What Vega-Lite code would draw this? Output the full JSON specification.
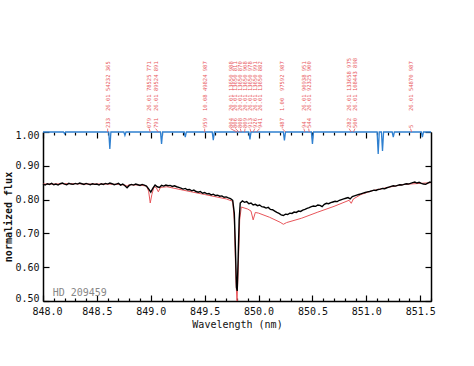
{
  "$schema": "https://vega.github.io/schema/vega-lite/v6.json",
  "width": 388,
  "height": 169,
  "autosize": {"type": "none"},
  "padding": {"left": 43, "top": 132, "right": 43, "bottom": 65},
  "background": "white",
  "config": {
    "view": {"stroke": null},
    "font": "DejaVu Sans Mono",
    "axis": {"labelFont": "DejaVu Sans Mono", "titleFont": "DejaVu Sans Mono", "labelColor": "#111", "titleColor": "#111", "domainColor": "black", "tickColor": "black", "domainWidth": 1.5, "tickWidth": 1.2, "grid": false}
  },
  "datasets": {
    "obs": [
      {"wl": 848.00, "f": 0.846}, {"wl": 848.02, "f": 0.843}, {"wl": 848.04, "f": 0.847}, {"wl": 848.06, "f": 0.845}, {"wl": 848.08, "f": 0.848},
      {"wl": 848.10, "f": 0.844}, {"wl": 848.12, "f": 0.846}, {"wl": 848.14, "f": 0.843}, {"wl": 848.16, "f": 0.847}, {"wl": 848.18, "f": 0.849},
      {"wl": 848.20, "f": 0.846}, {"wl": 848.22, "f": 0.844}, {"wl": 848.24, "f": 0.848}, {"wl": 848.26, "f": 0.846}, {"wl": 848.28, "f": 0.845},
      {"wl": 848.30, "f": 0.848}, {"wl": 848.32, "f": 0.846}, {"wl": 848.34, "f": 0.849}, {"wl": 848.36, "f": 0.847}, {"wl": 848.38, "f": 0.845},
      {"wl": 848.40, "f": 0.848}, {"wl": 848.42, "f": 0.846}, {"wl": 848.44, "f": 0.844}, {"wl": 848.46, "f": 0.847}, {"wl": 848.48, "f": 0.845},
      {"wl": 848.50, "f": 0.846}, {"wl": 848.52, "f": 0.843}, {"wl": 848.54, "f": 0.847}, {"wl": 848.56, "f": 0.845}, {"wl": 848.58, "f": 0.848},
      {"wl": 848.60, "f": 0.846}, {"wl": 848.62, "f": 0.849}, {"wl": 848.64, "f": 0.847}, {"wl": 848.66, "f": 0.844}, {"wl": 848.68, "f": 0.846},
      {"wl": 848.70, "f": 0.848}, {"wl": 848.72, "f": 0.843}, {"wl": 848.74, "f": 0.846}, {"wl": 848.76, "f": 0.841}, {"wl": 848.78, "f": 0.835},
      {"wl": 848.80, "f": 0.842}, {"wl": 848.82, "f": 0.845}, {"wl": 848.84, "f": 0.843}, {"wl": 848.86, "f": 0.846}, {"wl": 848.88, "f": 0.844},
      {"wl": 848.90, "f": 0.842}, {"wl": 848.92, "f": 0.845}, {"wl": 848.94, "f": 0.843}, {"wl": 848.96, "f": 0.840}, {"wl": 848.98, "f": 0.832},
      {"wl": 849.00, "f": 0.822}, {"wl": 849.02, "f": 0.834}, {"wl": 849.04, "f": 0.843}, {"wl": 849.06, "f": 0.838}, {"wl": 849.08, "f": 0.836},
      {"wl": 849.10, "f": 0.842}, {"wl": 849.12, "f": 0.840}, {"wl": 849.14, "f": 0.843}, {"wl": 849.16, "f": 0.841}, {"wl": 849.18, "f": 0.842},
      {"wl": 849.20, "f": 0.839}, {"wl": 849.22, "f": 0.841}, {"wl": 849.24, "f": 0.838}, {"wl": 849.26, "f": 0.836}, {"wl": 849.28, "f": 0.834},
      {"wl": 849.30, "f": 0.831}, {"wl": 849.32, "f": 0.833}, {"wl": 849.34, "f": 0.829}, {"wl": 849.36, "f": 0.830}, {"wl": 849.38, "f": 0.826},
      {"wl": 849.40, "f": 0.828}, {"wl": 849.42, "f": 0.824}, {"wl": 849.44, "f": 0.822}, {"wl": 849.46, "f": 0.824}, {"wl": 849.48, "f": 0.819},
      {"wl": 849.50, "f": 0.821}, {"wl": 849.52, "f": 0.817}, {"wl": 849.54, "f": 0.818}, {"wl": 849.56, "f": 0.814}, {"wl": 849.58, "f": 0.816},
      {"wl": 849.60, "f": 0.812}, {"wl": 849.62, "f": 0.813}, {"wl": 849.64, "f": 0.810}, {"wl": 849.66, "f": 0.811}, {"wl": 849.68, "f": 0.807},
      {"wl": 849.70, "f": 0.808}, {"wl": 849.72, "f": 0.805}, {"wl": 849.74, "f": 0.803}, {"wl": 849.76, "f": 0.798}, {"wl": 849.775, "f": 0.76},
      {"wl": 849.785, "f": 0.66}, {"wl": 849.795, "f": 0.54}, {"wl": 849.802, "f": 0.53}, {"wl": 849.81, "f": 0.62}, {"wl": 849.82, "f": 0.74},
      {"wl": 849.83, "f": 0.790}, {"wl": 849.85, "f": 0.796}, {"wl": 849.87, "f": 0.792}, {"wl": 849.89, "f": 0.794}, {"wl": 849.91, "f": 0.788},
      {"wl": 849.93, "f": 0.790}, {"wl": 849.95, "f": 0.784}, {"wl": 849.97, "f": 0.786}, {"wl": 849.99, "f": 0.782}, {"wl": 850.01, "f": 0.784},
      {"wl": 850.03, "f": 0.779}, {"wl": 850.05, "f": 0.778}, {"wl": 850.07, "f": 0.775}, {"wl": 850.09, "f": 0.777}, {"wl": 850.11, "f": 0.771},
      {"wl": 850.13, "f": 0.770}, {"wl": 850.15, "f": 0.766}, {"wl": 850.17, "f": 0.762}, {"wl": 850.19, "f": 0.759}, {"wl": 850.21, "f": 0.755},
      {"wl": 850.23, "f": 0.753}, {"wl": 850.25, "f": 0.757}, {"wl": 850.27, "f": 0.756}, {"wl": 850.29, "f": 0.760}, {"wl": 850.31, "f": 0.759},
      {"wl": 850.33, "f": 0.763}, {"wl": 850.35, "f": 0.762}, {"wl": 850.37, "f": 0.766}, {"wl": 850.39, "f": 0.765}, {"wl": 850.41, "f": 0.769},
      {"wl": 850.43, "f": 0.771}, {"wl": 850.45, "f": 0.774}, {"wl": 850.47, "f": 0.776}, {"wl": 850.49, "f": 0.779}, {"wl": 850.51, "f": 0.781},
      {"wl": 850.53, "f": 0.780}, {"wl": 850.55, "f": 0.784}, {"wl": 850.57, "f": 0.783}, {"wl": 850.59, "f": 0.779}, {"wl": 850.61, "f": 0.786},
      {"wl": 850.63, "f": 0.789}, {"wl": 850.65, "f": 0.788}, {"wl": 850.67, "f": 0.791}, {"wl": 850.69, "f": 0.793}, {"wl": 850.71, "f": 0.795},
      {"wl": 850.73, "f": 0.794}, {"wl": 850.75, "f": 0.798}, {"wl": 850.77, "f": 0.800}, {"wl": 850.79, "f": 0.802}, {"wl": 850.81, "f": 0.804},
      {"wl": 850.83, "f": 0.806}, {"wl": 850.85, "f": 0.802}, {"wl": 850.87, "f": 0.809}, {"wl": 850.89, "f": 0.811}, {"wl": 850.91, "f": 0.813},
      {"wl": 850.93, "f": 0.815}, {"wl": 850.95, "f": 0.817}, {"wl": 850.97, "f": 0.819}, {"wl": 850.99, "f": 0.821}, {"wl": 851.01, "f": 0.823},
      {"wl": 851.03, "f": 0.824}, {"wl": 851.05, "f": 0.826}, {"wl": 851.07, "f": 0.828}, {"wl": 851.09, "f": 0.827}, {"wl": 851.11, "f": 0.830},
      {"wl": 851.13, "f": 0.831}, {"wl": 851.15, "f": 0.833}, {"wl": 851.17, "f": 0.832}, {"wl": 851.19, "f": 0.835}, {"wl": 851.21, "f": 0.837},
      {"wl": 851.23, "f": 0.839}, {"wl": 851.25, "f": 0.841}, {"wl": 851.27, "f": 0.840}, {"wl": 851.29, "f": 0.842}, {"wl": 851.31, "f": 0.844},
      {"wl": 851.33, "f": 0.843}, {"wl": 851.35, "f": 0.845}, {"wl": 851.37, "f": 0.847}, {"wl": 851.39, "f": 0.846}, {"wl": 851.41, "f": 0.848},
      {"wl": 851.43, "f": 0.850}, {"wl": 851.45, "f": 0.852}, {"wl": 851.47, "f": 0.849}, {"wl": 851.49, "f": 0.851}, {"wl": 851.51, "f": 0.848},
      {"wl": 851.53, "f": 0.846}, {"wl": 851.55, "f": 0.845}, {"wl": 851.57, "f": 0.849}, {"wl": 851.59, "f": 0.852}, {"wl": 851.60, "f": 0.851}
    ],
    "model": [
      {"wl": 848.00, "f": 0.846}, {"wl": 848.10, "f": 0.846}, {"wl": 848.20, "f": 0.847}, {"wl": 848.30, "f": 0.847}, {"wl": 848.40, "f": 0.846},
      {"wl": 848.50, "f": 0.846}, {"wl": 848.60, "f": 0.846}, {"wl": 848.70, "f": 0.845}, {"wl": 848.76, "f": 0.843}, {"wl": 848.78, "f": 0.840},
      {"wl": 848.80, "f": 0.844}, {"wl": 848.90, "f": 0.843}, {"wl": 848.96, "f": 0.840}, {"wl": 848.98, "f": 0.825}, {"wl": 848.995, "f": 0.790},
      {"wl": 849.01, "f": 0.815}, {"wl": 849.03, "f": 0.838}, {"wl": 849.05, "f": 0.836}, {"wl": 849.07, "f": 0.823}, {"wl": 849.09, "f": 0.836},
      {"wl": 849.15, "f": 0.838}, {"wl": 849.30, "f": 0.828}, {"wl": 849.50, "f": 0.815}, {"wl": 849.70, "f": 0.802}, {"wl": 849.76, "f": 0.795},
      {"wl": 849.775, "f": 0.74}, {"wl": 849.79, "f": 0.56}, {"wl": 849.80, "f": 0.50}, {"wl": 849.81, "f": 0.58}, {"wl": 849.825, "f": 0.74},
      {"wl": 849.84, "f": 0.778}, {"wl": 849.90, "f": 0.772}, {"wl": 849.93, "f": 0.766}, {"wl": 849.95, "f": 0.740}, {"wl": 849.97, "f": 0.762},
      {"wl": 850.00, "f": 0.760}, {"wl": 850.10, "f": 0.748}, {"wl": 850.20, "f": 0.733}, {"wl": 850.23, "f": 0.727}, {"wl": 850.26, "f": 0.732},
      {"wl": 850.40, "f": 0.745}, {"wl": 850.55, "f": 0.763}, {"wl": 850.70, "f": 0.780}, {"wl": 850.84, "f": 0.798}, {"wl": 850.86, "f": 0.789},
      {"wl": 850.88, "f": 0.802}, {"wl": 850.95, "f": 0.815}, {"wl": 851.05, "f": 0.826}, {"wl": 851.20, "f": 0.836}, {"wl": 851.35, "f": 0.845},
      {"wl": 851.50, "f": 0.848}, {"wl": 851.60, "f": 0.850}
    ],
    "tell": [
      {"wl": 848.00, "f": 1.0}, {"wl": 848.19, "f": 1.0}, {"wl": 848.20, "f": 0.995}, {"wl": 848.21, "f": 1.0},
      {"wl": 848.61, "f": 1.0}, {"wl": 848.62, "f": 0.950}, {"wl": 848.63, "f": 1.0},
      {"wl": 848.75, "f": 1.0}, {"wl": 848.76, "f": 0.990}, {"wl": 848.77, "f": 1.0},
      {"wl": 849.09, "f": 1.0}, {"wl": 849.10, "f": 0.965}, {"wl": 849.11, "f": 1.0},
      {"wl": 849.31, "f": 1.0}, {"wl": 849.32, "f": 0.985}, {"wl": 849.33, "f": 1.0},
      {"wl": 849.57, "f": 1.0}, {"wl": 849.58, "f": 0.976}, {"wl": 849.59, "f": 1.0},
      {"wl": 849.91, "f": 1.0}, {"wl": 849.92, "f": 0.978}, {"wl": 849.93, "f": 1.0},
      {"wl": 850.23, "f": 1.0}, {"wl": 850.24, "f": 0.975}, {"wl": 850.25, "f": 1.0},
      {"wl": 850.49, "f": 1.0}, {"wl": 850.50, "f": 0.965}, {"wl": 850.51, "f": 1.0},
      {"wl": 851.10, "f": 1.0}, {"wl": 851.11, "f": 0.935}, {"wl": 851.12, "f": 1.0},
      {"wl": 851.14, "f": 1.0}, {"wl": 851.15, "f": 0.944}, {"wl": 851.16, "f": 1.0},
      {"wl": 851.24, "f": 1.0}, {"wl": 851.25, "f": 0.985}, {"wl": 851.26, "f": 1.0},
      {"wl": 851.51, "f": 1.0}, {"wl": 851.52, "f": 0.985}, {"wl": 851.53, "f": 1.0},
      {"wl": 851.60, "f": 1.0}
    ],
    "ids": [
      {"wl": 848.60, "lx": 848.60, "a": "233", "b": "26.01", "c": "54232 365"},
      {"wl": 848.995, "lx": 848.985, "a": "079", "b": "26.01", "c": "78525 771"},
      {"wl": 849.07, "lx": 849.045, "a": "791", "b": "26.01", "c": "89524 891"},
      {"wl": 849.50, "lx": 849.50, "a": "959", "b": "10.08", "c": "49824 987"},
      {"wl": 849.80, "lx": 849.74, "a": "804", "b": "20.01", "c": "13650 988"},
      {"wl": 849.82, "lx": 849.785, "a": "806", "b": "20.01", "c": "13650 811"},
      {"wl": 849.84, "lx": 849.83, "a": "808", "b": "20.01", "c": "13650 870"},
      {"wl": 849.87, "lx": 849.875, "a": "809", "b": "20.01", "c": "13650 908"},
      {"wl": 849.93, "lx": 849.92, "a": "913", "b": "26.01", "c": "13650 978"},
      {"wl": 849.95, "lx": 849.965, "a": "926", "b": "26.01", "c": "13650 991"},
      {"wl": 849.98, "lx": 850.01, "a": "941", "b": "26.01", "c": "13650 882"},
      {"wl": 850.25, "lx": 850.22, "a": "487", "b": "1.00", "c": "97592 987"},
      {"wl": 850.43, "lx": 850.42, "a": "94", "b": "26.01", "c": "90938 951"},
      {"wl": 850.47, "lx": 850.465, "a": "544", "b": "26.01", "c": "92325 900"},
      {"wl": 850.86, "lx": 850.84, "a": "282", "b": "26.01", "c": "133658 975"},
      {"wl": 850.88, "lx": 850.895, "a": "500", "b": "26.01", "c": "108443 898"},
      {"wl": 851.42, "lx": 851.41, "a": "5", "b": "26.01", "c": "54870 987"}
    ],
    "star": [{"wl": 848.09, "f": 0.523, "name": "HD 209459"}]
  },
  "resolve": {"axis": {"x": "independent", "y": "independent"}},
  "layer": [
    {
      "data": {"name": "model"},
      "mark": {"type": "line", "color": "#e8555a", "strokeWidth": 1},
      "encoding": {
        "x": {"field": "wl", "type": "quantitative", "scale": {"domain": [848.0, 851.6], "nice": false, "zero": false},
          "axis": {"orient": "bottom", "values": [848.0, 848.5, 849.0, 849.5, 850.0, 850.5, 851.0, 851.5], "format": ".1f", "tickSize": -6, "labelPadding": 11, "labelFontSize": 10, "labelFlush": true, "labelFlushOffset": 11, "title": "Wavelength (nm)", "titleFontSize": 10, "titleFontWeight": "normal", "titlePadding": 3}},
        "y": {"field": "f", "type": "quantitative", "scale": {"domain": [0.5, 1.0], "nice": false, "zero": false},
          "axis": {"orient": "left", "values": [0.5, 0.6, 0.7, 0.8, 0.9, 1.0], "format": ".2f", "tickSize": -6, "labelPadding": 10, "labelFontSize": 10, "labelFlush": true, "labelFlushOffset": 2, "title": "normalized flux", "titleFontSize": 10, "titleFontWeight": "bold", "titlePadding": 1}}
      }
    },
    {
      "data": {"name": "obs"},
      "mark": {"type": "line", "color": "black", "strokeWidth": 1.4},
      "encoding": {
        "x": {"field": "wl", "type": "quantitative",
          "axis": {"orient": "bottom", "values": [848.1, 848.2, 848.3, 848.4, 848.6, 848.7, 848.8, 848.9, 849.1, 849.2, 849.3, 849.4, 849.6, 849.7, 849.8, 849.9, 850.1, 850.2, 850.3, 850.4, 850.6, 850.7, 850.8, 850.9, 851.1, 851.2, 851.3, 851.4, 851.6], "tickSize": -3, "labels": false, "domain": false, "title": null}},
        "y": {"field": "f", "type": "quantitative",
          "axis": {"orient": "right", "values": [0.5, 0.6, 0.7, 0.8, 0.9, 1.0], "tickSize": -6, "labels": false, "title": null}}
      }
    },
    {
      "data": {"name": "tell"},
      "mark": {"type": "line", "color": "#2f80d0", "strokeWidth": 1.3},
      "encoding": {
        "x": {"field": "wl", "type": "quantitative",
          "axis": {"orient": "top", "values": [848.0, 848.5, 849.0, 849.5, 850.0, 850.5, 851.0, 851.5], "tickSize": -6, "labels": false, "domain": false, "title": null}},
        "y": {"field": "f", "type": "quantitative", "axis": null}
      }
    },
    {
      "data": {"name": "ids"},
      "mark": {"type": "rule", "color": "#e8555a", "strokeWidth": 0.8},
      "encoding": {
        "x": {"field": "wl", "type": "quantitative",
          "axis": {"orient": "top", "values": [848.1, 848.2, 848.3, 848.4, 848.6, 848.7, 848.8, 848.9, 849.1, 849.2, 849.3, 849.4, 849.6, 849.7, 849.8, 849.9, 850.1, 850.2, 850.3, 850.4, 850.6, 850.7, 850.8, 850.9, 851.1, 851.2, 851.3, 851.4], "tickSize": -3, "labels": false, "domain": false, "title": null}},
        "x2": {"field": "lx"},
        "y": {"datum": 1.0, "type": "quantitative", "axis": null},
        "y2": {"datum": 1.01}
      }
    },
    {
      "data": {"name": "ids"},
      "mark": {"type": "text", "color": "#e8555a", "angle": 270, "align": "left", "baseline": "middle", "font": "DejaVu Sans Mono", "fontSize": 5.5},
      "encoding": {
        "x": {"field": "lx", "type": "quantitative", "axis": null},
        "y": {"datum": 1.012, "type": "quantitative", "axis": null},
        "text": {"field": "a"}
      }
    },
    {
      "data": {"name": "ids"},
      "mark": {"type": "text", "color": "#e8555a", "angle": 270, "align": "left", "baseline": "middle", "font": "DejaVu Sans Mono", "fontSize": 5.5},
      "encoding": {
        "x": {"field": "lx", "type": "quantitative", "axis": null},
        "y": {"datum": 1.062, "type": "quantitative", "axis": null},
        "text": {"field": "b"}
      }
    },
    {
      "data": {"name": "ids"},
      "mark": {"type": "text", "color": "#e8555a", "angle": 270, "align": "left", "baseline": "middle", "font": "DejaVu Sans Mono", "fontSize": 5.5},
      "encoding": {
        "x": {"field": "lx", "type": "quantitative", "axis": null},
        "y": {"datum": 1.121, "type": "quantitative", "axis": null},
        "text": {"field": "c"}
      }
    },
    {
      "data": {"name": "star"},
      "mark": {"type": "text", "color": "#888888", "align": "left", "baseline": "middle", "font": "DejaVu Sans Mono", "fontSize": 10},
      "encoding": {
        "x": {"field": "wl", "type": "quantitative", "axis": null},
        "y": {"field": "f", "type": "quantitative", "axis": null},
        "text": {"field": "name"}
      }
    }
  ]
}
